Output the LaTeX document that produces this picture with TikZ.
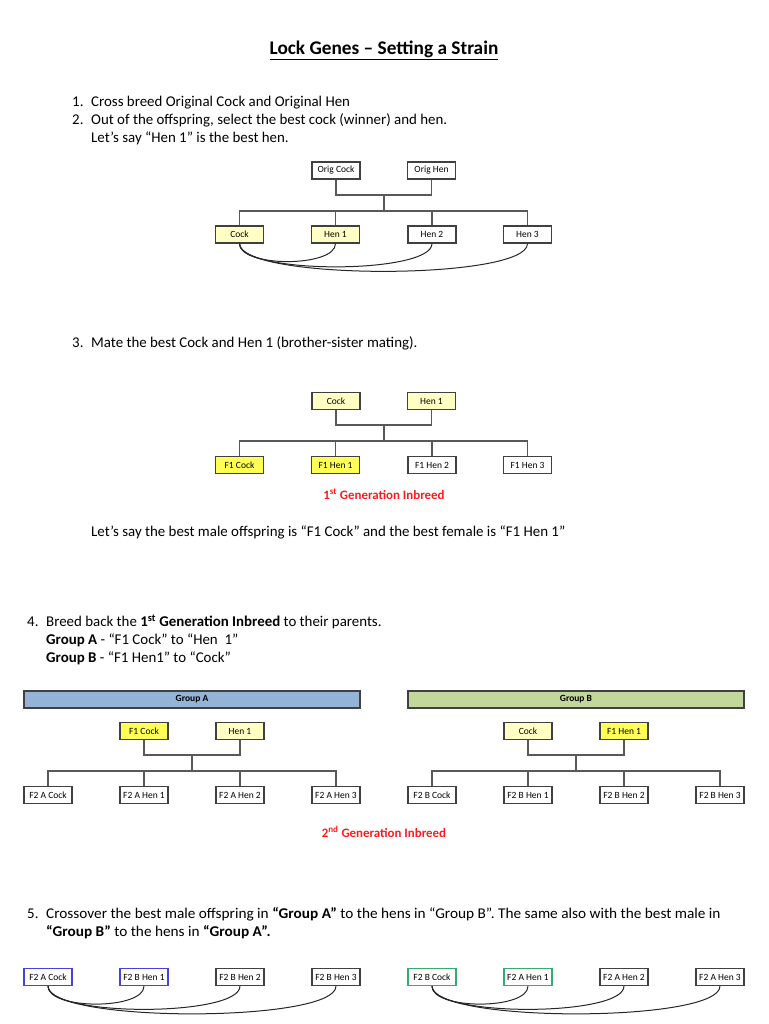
\documentclass[tikz,border=0pt]{standalone}
\usepackage{fontspec}
\setmainfont{Carlito}
\definecolor{paleY}{HTML}{FFFFC4}
\definecolor{brightY}{HTML}{FFFF55}
\definecolor{grpA}{HTML}{95B3D7}
\definecolor{grpB}{HTML}{C3D69B}
\definecolor{edgeC}{HTML}{404040}
\definecolor{connC}{HTML}{595959}
\definecolor{blueE}{HTML}{4444DD}
\definecolor{greenE}{HTML}{3DAA6A}
\definecolor{redT}{HTML}{FF1A1A}
\tikzset{
  box/.style={draw=edgeC, line width=1.2pt, fill=white, minimum width=48pt, minimum height=17pt, inner sep=0pt, font=\fontsize{9.5}{10}\selectfont},
  pale/.style={box, fill=paleY},
  bright/.style={box, fill=brightY},
  bluebox/.style={box, draw=blueE},
  greenbox/.style={box, draw=greenE},
  grpbar/.style={draw=edgeC, line width=1.2pt, minimum width=336pt, minimum height=17pt, inner sep=0pt, font=\fontsize{9.5}{10}\selectfont\bfseries},
  conn/.style={draw=connC, line width=1.4pt},
  arc/.style={draw=black!85, line width=1pt},
  body/.style={anchor=base west, inner sep=0pt, font=\fontsize{14.9}{17}\selectfont},
  redlbl/.style={anchor=base, inner sep=0pt, text=redT, font=\fontsize{12.9}{14}\selectfont\bfseries}
}
\begin{document}
\begin{tikzpicture}[x=1pt, y=-1pt]
\useasboundingbox (0,0) rectangle (768,1024);
% title
\node[anchor=base, inner sep=0pt, font=\fontsize{19.3}{22}\selectfont\bfseries] (title) at (384,55) {\underline{Lock Genes – Setting a Strain}};
% section 1 text
\node[body] (n1) at (72,106.5) {1.};
\node[body] (t1) at (91,106.5) {Cross breed Original Cock and Original Hen};
\node[body] (n2) at (72,124.5) {2.};
\node[body] (t2) at (91,124.5) {Out of the offspring, select the best cock (winner) and hen.};
\node[body] (t2b) at (91,142.5) {Let’s say “Hen 1” is the best hen.};
% tree 1
\node[box] (oc) at (336,170.5) {Orig Cock};
\node[box] (oh) at (431.5,170.5) {Orig Hen};
\coordinate (j1) at (384,195);
\coordinate (k1) at (384,211);
\node[pale] (c) at (239.5,234.5) {Cock};
\node[pale] (h1) at (335.5,234.5) {Hen 1};
\node[box] (h2) at (432,234.5) {Hen 2};
\node[box] (h3) at (527.5,234.5) {Hen 3};
\draw[conn] (oc.south) |- (j1) -| (oh.south);
\draw[conn] (j1) -- (k1);
\draw[conn] (c.north) |- (k1) -| (h3.north);
\draw[conn] (h1.north) -- (h1.north |- k1);
\draw[conn] (h2.north) -- (h2.north |- k1);
\draw[arc] (c.south) .. controls +(0,24) and +(0,24) .. (h1.south);
\draw[arc] (c.south) .. controls +(0,31) and +(0,31) .. (h2.south);
\draw[arc] (c.south) .. controls +(0,37) and +(0,37) .. (h3.south);
% section 3
\node[body] (n3) at (72,347.5) {3.};
\node[body] (t3) at (91,347.5) {Mate the best Cock and Hen 1 (brother-sister mating).};
\node[pale] (pc) at (336,401) {Cock};
\node[pale] (ph) at (431.5,401) {Hen 1};
\coordinate (j2) at (384,425);
\coordinate (k2) at (384,441);
\node[bright] (f1c) at (239.5,465) {F1 Cock};
\node[bright] (f1h1) at (335.5,465) {F1 Hen 1};
\node[box] (f1h2) at (432,465) {F1 Hen 2};
\node[box] (f1h3) at (527.5,465) {F1 Hen 3};
\draw[conn] (pc.south) |- (j2) -| (ph.south);
\draw[conn] (j2) -- (k2);
\draw[conn] (f1c.north) |- (k2) -| (f1h3.north);
\draw[conn] (f1h1.north) -- (f1h1.north |- k2);
\draw[conn] (f1h2.north) -- (f1h2.north |- k2);
\node[redlbl] (g1) at (384,499) {1\textsuperscript{st} Generation Inbreed};
\node[body] (t3b) at (91,536.5) {Let’s say the best male offspring is “F1 Cock” and the best female is “F1 Hen 1”};
% section 4
\node[body] (n4) at (27,626.5) {4.};
\node[body] (t4) at (46,626.5) {Breed back the \textbf{1\textsuperscript{st} Generation Inbreed} to their parents.};
\node[body] (t4a) at (46,644.5) {\textbf{Group A} - “F1 Cock” to “Hen~~1”};
\node[body] (t4b) at (46,662.5) {\textbf{Group B} - “F1 Hen1” to “Cock”};
\node[grpbar, fill=grpA] (ga) at (192,699.5) {Group A};
\node[grpbar, fill=grpB] (gb) at (576,699.5) {Group B};
% tree A
\node[bright] (af1) at (144,731) {F1 Cock};
\node[pale] (ah1) at (240,731) {Hen 1};
\coordinate (ja) at (192,755);
\coordinate (ka) at (192,771);
\node[box] (a1) at (48,795) {F2 A Cock};
\node[box] (a2) at (144,795) {F2 A Hen 1};
\node[box] (a3) at (240,795) {F2 A Hen 2};
\node[box] (a4) at (336,795) {F2 A Hen 3};
\draw[conn] (af1.south) |- (ja) -| (ah1.south);
\draw[conn] (ja) -- (ka);
\draw[conn] (a1.north) |- (ka) -| (a4.north);
\draw[conn] (a2.north) -- (a2.north |- ka);
\draw[conn] (a3.north) -- (a3.north |- ka);
% tree B
\node[pale] (bc) at (528,731) {Cock};
\node[bright] (bf1) at (624,731) {F1 Hen 1};
\coordinate (jb) at (576,755);
\coordinate (kb) at (576,771);
\node[box] (b1) at (432,795) {F2 B Cock};
\node[box] (b2) at (528,795) {F2 B Hen 1};
\node[box] (b3) at (624,795) {F2 B Hen 2};
\node[box] (b4) at (720,795) {F2 B Hen 3};
\draw[conn] (bc.south) |- (jb) -| (bf1.south);
\draw[conn] (jb) -- (kb);
\draw[conn] (b1.north) |- (kb) -| (b4.north);
\draw[conn] (b2.north) -- (b2.north |- kb);
\draw[conn] (b3.north) -- (b3.north |- kb);
\node[redlbl] (g2) at (384,837) {2\textsuperscript{nd} Generation Inbreed};
% section 5
\node[body] (n5) at (27,918.5) {5.};
\node[body] (t5) at (46,918.5) {\scalebox{1.026}[1]{Crossover the best male offspring in \textbf{“Group A”} to the hens in “Group B”. The same also with the best male in}};
\node[body] (t5b) at (46,936.5) {\scalebox{1.026}[1]{\textbf{“Group B”} to the hens in \textbf{“Group A”.}}};
\node[bluebox] (x1) at (48,977) {F2 A Cock};
\node[bluebox] (x2) at (144,977) {F2 B Hen 1};
\node[box] (x3) at (240,977) {F2 B Hen 2};
\node[box] (x4) at (336,977) {F2 B Hen 3};
\node[greenbox] (y1) at (432,977) {F2 B Cock};
\node[greenbox] (y2) at (528,977) {F2 A Hen 1};
\node[box] (y3) at (624,977) {F2 A Hen 2};
\node[box] (y4) at (720,977) {F2 A Hen 3};
\draw[arc] (x1.south) .. controls +(0,24) and +(0,24) .. (x2.south);
\draw[arc] (x1.south) .. controls +(0,31) and +(0,31) .. (x3.south);
\draw[arc] (x1.south) .. controls +(0,37) and +(0,37) .. (x4.south);
\draw[arc] (y1.south) .. controls +(0,24) and +(0,24) .. (y2.south);
\draw[arc] (y1.south) .. controls +(0,31) and +(0,31) .. (y3.south);
\draw[arc] (y1.south) .. controls +(0,37) and +(0,37) .. (y4.south);
\end{tikzpicture}
\end{document}
